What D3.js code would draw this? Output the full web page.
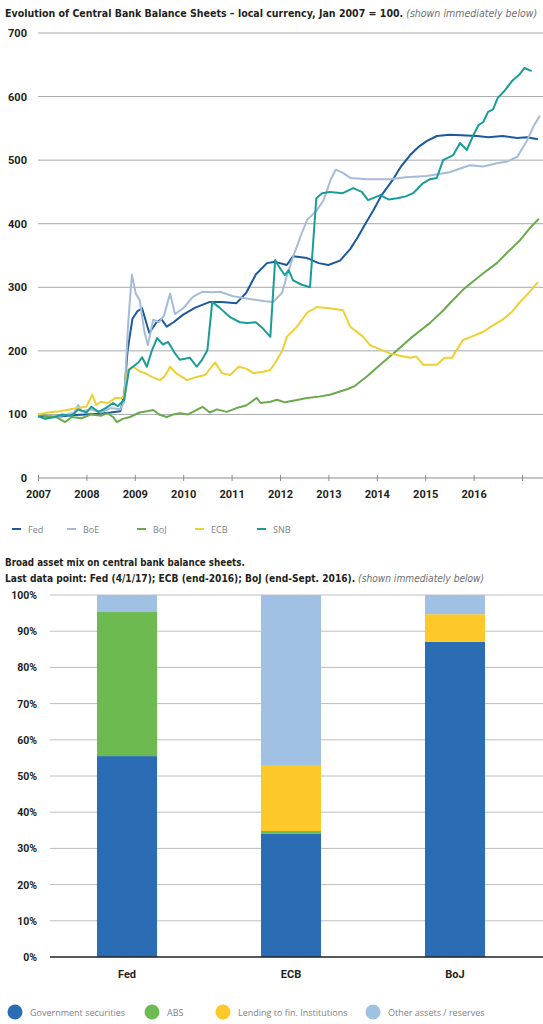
<!DOCTYPE html>
<html>
<head>
<meta charset="utf-8">
<script src="https://cdn.jsdelivr.net/npm/d3@7"></script>
<style>
  body { margin: 0; background: #fff; }
  svg { display: block; }
  .cond { font-family: "Liberation Sans Narrow", "Arial Narrow", "DejaVu Sans Condensed", sans-serif; }
</style>
</head>
<body>
<svg id="chart" width="543" height="1024"></svg>
<script>
// ---- line chart data : [year, index (Jan 2007 = 100)] ----
const fed = [[2007.00,98],[2007.25,96],[2007.5,97],[2007.75,99],[2008.0,100],[2008.25,101],[2008.5,103],[2008.7,105],[2008.78,130],[2008.85,200],[2008.95,250],[2009.05,262],[2009.15,267],[2009.3,228],[2009.45,245],[2009.55,250],[2009.66,238],[2009.8,245],[2010.0,257],[2010.25,268],[2010.55,277],[2010.8,277],[2011.1,275],[2011.3,291],[2011.5,320],[2011.73,338],[2011.9,340],[2012.14,335],[2012.27,349],[2012.56,346],[2012.8,338],[2013.0,335],[2013.24,342],[2013.45,360],[2013.6,378],[2013.75,398],[2013.92,420],[2014.1,445],[2014.33,469],[2014.5,490],[2014.69,508],[2014.85,520],[2015.03,530],[2015.24,538],[2015.5,540],[2015.75,539],[2016.07,538],[2016.3,536],[2016.6,538],[2016.9,535],[2017.1,536],[2017.33,533]];
const boe = [[2007.0,100],[2007.2,98],[2007.4,97],[2007.6,100],[2007.75,103],[2007.83,115],[2007.9,105],[2008.1,108],[2008.3,103],[2008.5,110],[2008.7,108],[2008.78,120],[2008.86,240],[2008.94,320],[2009.02,290],[2009.1,280],[2009.2,230],[2009.27,209],[2009.38,249],[2009.5,245],[2009.6,255],[2009.73,290],[2009.83,258],[2010.0,267],[2010.2,285],[2010.4,293],[2010.6,292],[2010.76,293],[2011.03,286],[2011.25,283],[2011.52,280],[2011.7,278],[2011.86,277],[2012.04,291],[2012.15,320],[2012.27,348],[2012.45,385],[2012.56,406],[2012.76,421],[2012.9,437],[2013.05,470],[2013.15,485],[2013.3,480],[2013.45,472],[2013.8,470],[2014.27,470],[2014.6,473],[2015.03,475],[2015.5,481],[2015.92,492],[2016.2,490],[2016.48,495],[2016.7,498],[2016.9,505],[2017.1,530],[2017.25,555],[2017.37,570]];
const boj = [[2007.0,100],[2007.2,97],[2007.4,95],[2007.56,88],[2007.7,96],[2007.9,94],[2008.1,100],[2008.3,98],[2008.43,102],[2008.55,96],[2008.63,88],[2008.75,93],[2008.9,96],[2009.1,103],[2009.25,105],[2009.38,107],[2009.5,100],[2009.66,96],[2009.8,100],[2009.93,102],[2010.1,100],[2010.25,106],[2010.4,112],[2010.55,103],[2010.7,108],[2010.9,104],[2011.1,110],[2011.3,114],[2011.52,126],[2011.6,118],[2011.8,120],[2011.94,123],[2012.1,119],[2012.3,122],[2012.56,126],[2012.8,128],[2013.03,131],[2013.24,136],[2013.4,140],[2013.55,145],[2013.8,160],[2014.07,178],[2014.25,190],[2014.42,201],[2014.7,220],[2014.9,232],[2015.1,244],[2015.35,262],[2015.55,278],[2015.78,296],[2016.0,310],[2016.2,322],[2016.48,338],[2016.7,355],[2016.96,374],[2017.15,392],[2017.35,408]];
const ecb = [[2007.0,100],[2007.2,103],[2007.45,105],[2007.6,107],[2007.8,110],[2008.0,112],[2008.12,131],[2008.2,115],[2008.3,120],[2008.45,118],[2008.6,126],[2008.75,126],[2008.8,135],[2008.86,170],[2008.96,175],[2009.1,168],[2009.21,165],[2009.35,159],[2009.52,154],[2009.62,160],[2009.73,175],[2009.85,165],[2010.08,154],[2010.28,159],[2010.45,162],[2010.66,182],[2010.8,165],[2010.97,162],[2011.15,175],[2011.3,172],[2011.45,165],[2011.65,167],[2011.8,170],[2011.94,186],[2012.05,201],[2012.14,222],[2012.35,238],[2012.56,260],[2012.76,269],[2013.03,267],[2013.3,264],[2013.45,238],[2013.72,222],[2013.86,209],[2014.27,196],[2014.5,192],[2014.69,189],[2014.82,191],[2014.96,178],[2015.24,178],[2015.4,189],[2015.55,189],[2015.78,217],[2015.95,222],[2016.2,230],[2016.4,240],[2016.6,249],[2016.8,262],[2016.96,277],[2017.15,292],[2017.33,308]];
const snb = [[2007.0,97],[2007.15,93],[2007.3,95],[2007.5,100],[2007.7,98],[2007.83,108],[2008.0,103],[2008.1,112],[2008.25,104],[2008.4,110],[2008.55,118],[2008.65,113],[2008.78,123],[2008.88,170],[2008.96,175],[2009.08,182],[2009.15,190],[2009.25,175],[2009.35,200],[2009.46,220],[2009.58,210],[2009.69,214],[2009.83,196],[2009.93,186],[2010.14,189],[2010.28,175],[2010.38,185],[2010.5,201],[2010.6,277],[2010.75,268],[2010.97,253],[2011.17,245],[2011.32,244],[2011.5,245],[2011.65,235],[2011.8,222],[2011.9,343],[2012.0,330],[2012.1,319],[2012.18,327],[2012.27,311],[2012.45,304],[2012.62,300],[2012.75,440],[2012.87,448],[2013.03,450],[2013.3,448],[2013.51,456],[2013.69,450],[2013.82,437],[2014.07,445],[2014.25,438],[2014.42,440],[2014.6,443],[2014.75,448],[2014.96,464],[2015.1,470],[2015.24,472],[2015.37,500],[2015.58,508],[2015.72,527],[2015.86,516],[2016.0,540],[2016.1,555],[2016.2,560],[2016.3,576],[2016.4,580],[2016.5,598],[2016.65,610],[2016.8,625],[2016.95,635],[2017.05,645],[2017.2,640]];

const lineNames = ["Fed", "BoE", "BoJ", "ECB", "SNB"];
const lineColors = ["#1b5a9c", "#a5bcd9", "#6aaa4c", "#efd033", "#1a9d98"];
const yearTicks = d3.range(2007, 2017);
const indexTicks = [0, 100, 200, 300, 400, 500, 600, 700];

// ---- bar chart data (% of balance sheet) ----
const banks = ["Fed", "ECB", "BoJ"];
const assetTypes = ["Government securities", "ABS", "Lending to fin. Institutions", "Other assets / reserves"];
const assetColors = ["#2a6db5", "#6dbb50", "#fdc92a", "#a0c1e3"];
const govSec = [55.5, 34.0, 87.1];
const abs = [39.8, 0.8, 0];
const lending = [0, 18.0, 7.6];
const other = [4.7, 47.2, 5.3];
const pctTicks = d3.range(0, 101, 10);

const svg = d3.select("#chart");
const dark = "#231f20";

// one title line: bold part + optional grey italic note, shrunk to fit a width
function titleLine(x, y, bold, note, width) {
  const t = svg.append("text")
    .attr("class", "cond")
    .attr("x", x).attr("y", y)
    .attr("font-size", 13)
    .attr("fill", dark);
  t.append("tspan").attr("font-weight", "bold").text(bold);
  if (note) {
    t.append("tspan")
      .attr("font-style", "italic")
      .attr("fill", "#6d6e71")
      .text("\u00a0" + note);
  }
  const len = t.node().getComputedTextLength();
  if (len > width) t.attr("font-size", 13 * width / len);
  return t;
}

// ================= line chart =================
const x = d3.scaleLinear().domain([2007, 2017]).range([38, 522]);
const y = d3.scaleLinear().domain([0, 700]).range([478, 33]);

titleLine(5, 17, "Evolution of Central Bank Balance Sheets \u2013 local currency, Jan 2007 = 100.", "(shown immediately below)", 533);

const lineG = svg.append("g");

lineG.append("g")
  .selectAll("line")
  .data(indexTicks.filter(d => d > 0))
  .join("line")
  .attr("x1", 38).attr("x2", 543)
  .attr("y1", d => y(d)).attr("y2", d => y(d))
  .attr("stroke", "#a7a9ac").attr("stroke-width", 1);

lineG.append("g")
  .selectAll("text")
  .data(indexTicks)
  .join("text")
  .attr("x", 27).attr("y", d => y(d) + 4)
  .attr("text-anchor", "end")
  .attr("font-family", "Roboto, 'DejaVu Sans', sans-serif")
  .attr("font-weight", "bold").attr("font-size", 11)
  .attr("fill", dark)
  .text(d => d);

const xAxis = lineG.append("g")
  .attr("transform", `translate(0,${y(0)})`)
  .call(d3.axisBottom(x).tickValues(yearTicks.concat([2017])).tickSize(3).tickFormat(d => d === 2017 ? "" : d));
xAxis.select(".domain").remove();
xAxis.append("line").attr("x1", 38).attr("x2", 543).attr("stroke", "#8a8c8e").attr("stroke-width", 1.2);
xAxis.selectAll(".tick line").attr("y1", -3).attr("y2", 3).attr("stroke", "#8a8c8e");
xAxis.selectAll(".tick text")
  .attr("y", 12)
  .attr("font-family", "Roboto, 'DejaVu Sans', sans-serif")
  .attr("font-weight", "bold").attr("font-size", 11)
  .attr("fill", dark);

const line = d3.line().x(d => x(d[0])).y(d => y(d[1]));
const series = [fed, boe, boj, ecb, snb];

lineG.append("g")
  .selectAll("path")
  .data(series)
  .join("path")
  .attr("d", line)
  .attr("fill", "none")
  .attr("stroke", (d, i) => lineColors[i])
  .attr("stroke-width", 2)
  .attr("stroke-linejoin", "round");

// legend for lines
const legendX = [12, 67, 137, 195, 257];
const lg = lineG.append("g").selectAll("g")
  .data(lineNames)
  .join("g")
  .attr("transform", (d, i) => `translate(${legendX[i]},529)`);
lg.append("line").attr("x1", 0).attr("x2", 9).attr("stroke", (d, i) => lineColors[i]).attr("stroke-width", 2);
lg.append("text")
  .attr("x", 16).attr("y", 3.5)
  .attr("font-family", "'Open Sans', 'DejaVu Sans', sans-serif")
  .attr("font-size", 9).attr("fill", "#808285")
  .text(d => d);

// ================= stacked bars =================
titleLine(5, 566, "Broad asset mix on central bank balance sheets.", null, 240);
titleLine(5, 582, "Last data point: Fed (4/1/17); ECB (end-2016); BoJ (end-Sept. 2016).", "(shown immediately below)", 480);

const bx = d3.scaleBand().domain(banks).range([45, 537]).paddingInner(0.634).paddingOuter(0.317);
const by = d3.scaleLinear().domain([0, 100]).range([957, 595]);

const barG = svg.append("g");

barG.append("g")
  .selectAll("line")
  .data(pctTicks.filter(d => d > 0))
  .join("line")
  .attr("x1", 50).attr("x2", 543)
  .attr("y1", d => by(d)).attr("y2", d => by(d))
  .attr("stroke", "#bcbec0").attr("stroke-width", 1);

barG.append("g")
  .selectAll("text")
  .data(pctTicks)
  .join("text")
  .attr("x", 37).attr("y", d => by(d) + 4)
  .attr("text-anchor", "end")
  .attr("font-family", "Roboto, 'DejaVu Sans', sans-serif")
  .attr("font-weight", "bold").attr("font-size", 10.5)
  .attr("fill", dark)
  .text(d => d + "%");

const table = banks.map((b, i) => ({bank: b, g: govSec[i], a: abs[i], l: lending[i], o: other[i]}));
const stack = d3.stack().keys(["g", "a", "l", "o"])(table);

barG.append("g")
  .selectAll("g")
  .data(stack)
  .join("g")
  .attr("fill", (d, i) => assetColors[i])
  .selectAll("rect")
  .data(d => d)
  .join("rect")
  .attr("x", d => bx(d.data.bank))
  .attr("width", bx.bandwidth())
  .attr("y", d => by(d[1]))
  .attr("height", d => by(d[0]) - by(d[1]));

barG.append("line")
  .attr("x1", 50).attr("x2", 543)
  .attr("y1", by(0)).attr("y2", by(0))
  .attr("stroke", dark).attr("stroke-width", 1.5);

barG.append("g")
  .selectAll("text")
  .data(banks)
  .join("text")
  .attr("x", d => bx(d) + bx.bandwidth() / 2)
  .attr("y", 978)
  .attr("text-anchor", "middle")
  .attr("font-family", "Roboto, 'DejaVu Sans', sans-serif")
  .attr("font-weight", "bold").attr("font-size", 11)
  .attr("fill", dark)
  .text(d => d);

// legend for bars
const circX = [15, 152, 223, 373];
const bl = barG.append("g").selectAll("g")
  .data(assetTypes)
  .join("g")
  .attr("transform", (d, i) => `translate(${circX[i]},1012)`);
bl.append("circle").attr("r", 7.5).attr("fill", (d, i) => assetColors[i]);
bl.append("text")
  .attr("x", 15).attr("y", 3.5)
  .attr("font-family", "'Open Sans', 'DejaVu Sans', sans-serif")
  .attr("font-size", 9).attr("fill", "#808285")
  .text(d => d);
</script>
</body>
</html>
